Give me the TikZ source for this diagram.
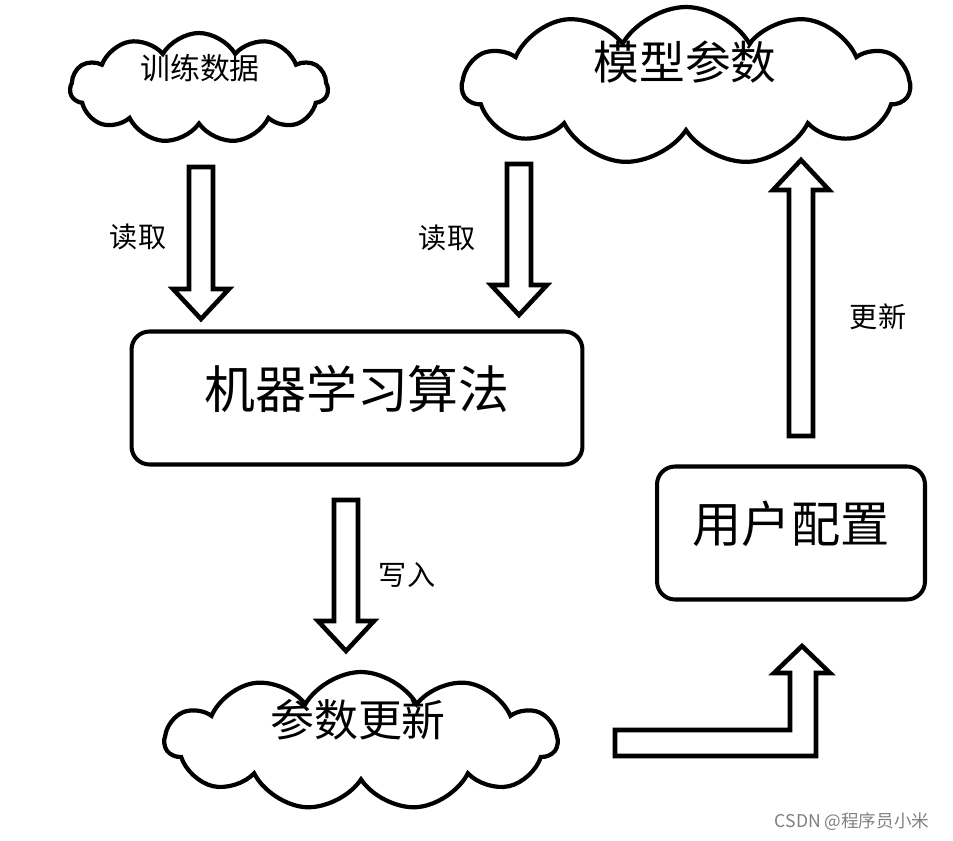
\documentclass[tikz,border=0pt]{standalone}
\usepackage{fontspec}
\setmainfont{Noto Sans CJK SC}
\usetikzlibrary{shapes.symbols,calc}

% hollow block arrow from #1 to the tip #2
\newcommand{\hollowarrow}[2]{%
  \coordinate (#1-b) at ($(#2)!0.6cm!(#1)$);
  \draw[blockarrow] ($(#1)!0.24cm!90:(#2)$) -- ($(#1-b)!0.24cm!90:(#2)$)
    -- ($(#1-b)!0.56cm!90:(#2)$) -- (#2) -- ($(#1-b)!0.56cm!-90:(#2)$)
    -- ($(#1-b)!0.24cm!-90:(#2)$) -- ($(#1)!0.24cm!-90:(#2)$) -- cycle;}

\begin{document}
\begin{tikzpicture}[x=0.02cm, y=-0.02cm,
  datacloud/.style={draw, line width=2.4pt, cloud, cloud puffs=11,
    cloud puff arc=120, cloud ignores aspect},
  roundbox/.style={draw, line width=2.3pt, rounded corners=0.36cm,
    minimum height=2.66cm, text depth=0.45cm},
  blockarrow/.style={line width=2.6pt, line join=miter},
  lbl/.style={font=\fontsize{16pt}{18pt}\selectfont}]
  \useasboundingbox (0,0) rectangle (953,841);

  % Clouds
  \node[datacloud, minimum width=5.16cm, minimum height=2.2cm] (train) at (199,88) {};
  \node[datacloud, minimum width=8.94cm, minimum height=3.16cm] (model) at (686,86) {};
  \node[datacloud, minimum width=7.84cm, minimum height=2.76cm] (update) at (361,741) {};
  \node[font=\fontsize{17pt}{20pt}\selectfont] (train_text) at (200,68) {训练数据};
  \node[font=\fontsize{26pt}{30pt}\selectfont] (model_text) at (685,62) {模型参数};
  \node[font=\fontsize{25pt}{28pt}\selectfont] (update_text) at (358,720) {参数更新};

  % Boxes
  \node[roundbox, minimum width=9.02cm, font=\fontsize{29pt}{32pt}\selectfont] (algo) at (357,398) {机器学习算法};
  \node[roundbox, minimum width=5.36cm, font=\fontsize{28pt}{32pt}\selectfont] (config) at (791,533) {用户配置};

   % Coordinates for the block arrows
   %
   % s -> start
   % e -> tip
   \path
   (201,167) coordinate(read1s)
   (201,319) coordinate(read1e)
   (519,164) coordinate(read2s)
   (519,315) coordinate(read2e)
   (346,500) coordinate(writes)
   (346,651) coordinate(writee)
   (801,436) coordinate(renews)
   (801,160) coordinate(renewe);

   % Draw block arrows
   \hollowarrow{read1s}{read1e}
   \hollowarrow{read2s}{read2e}
   \hollowarrow{writes}{writee}
   \hollowarrow{renews}{renewe}

   % Bent arrow towards the user configuration
   \draw[blockarrow] (615,730) -- (790,730) -- (790,673) -- (774,673) -- (802,646)
     -- (830,673) -- (816,673) -- (816,756) -- (615,756) -- cycle;

   \node[lbl] (read1_lbl) at (138,237) {读取};
   \node[lbl] (read2_lbl) at (447,238) {读取};
   \node[lbl] (write_lbl) at (407,575) {写入};
   \node[lbl] (renew_lbl) at (878,317) {更新};
   \node[font=\fontsize{10pt}{12pt}\selectfont, text=gray] (mark) at (852,822) {CSDN @程序员小米};
\end{tikzpicture}
\end{document}
